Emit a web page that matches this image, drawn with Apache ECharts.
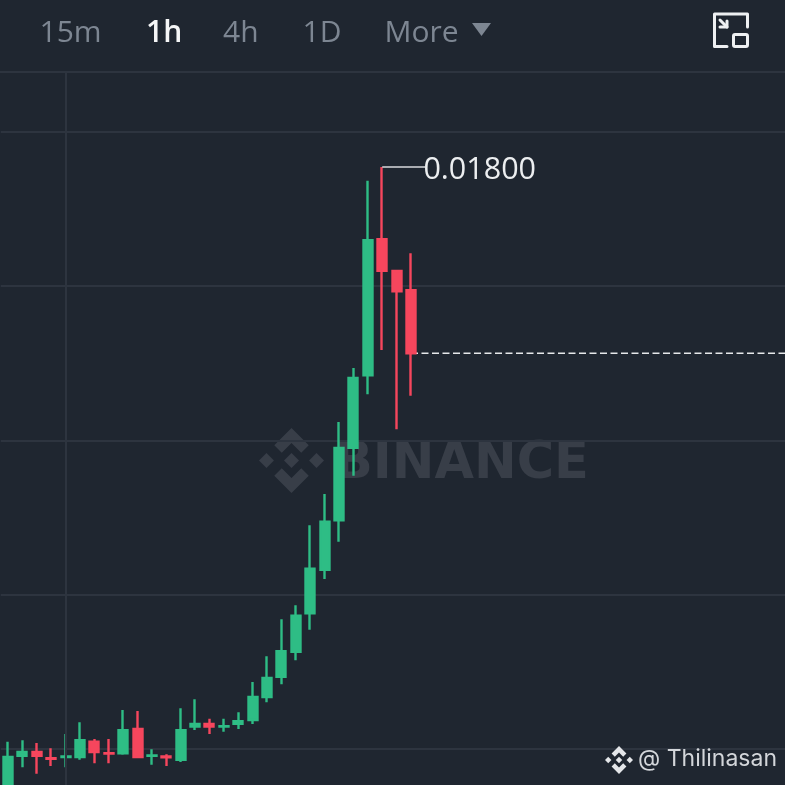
<!DOCTYPE html>
<html>
<head>
<meta charset="utf-8">
<script src="https://cdn.jsdelivr.net/npm/echarts@6/dist/echarts.min.js"></script>
<style>html,body{margin:0;padding:0;background:#1f2630}#c{width:785px;height:785px}</style>
</head>
<body>
<div id="c"></div>
<script>
// open, close, low, high
const opens  = [.002772,.003608,.003702,.003548,.003577,.003578,.003952,.00367,.003669,.004263,.003605,.00359,.003512,.004325,.004387,.004322,.004391,.004483,.005045,.005542,.006153,.007091,.008157,.009365,.01114,.01291,.016235,.01546,.014988];
const closes = [.003578,.003702,.003608,.003535,.00359,.003987,.003701,.00366,.004231,.003578,.003617,.00357,.004231,.004387,.004325,.004334,.004453,.005045,.00551,.006162,.007033,.008182,.009331,.011133,.012844,.01621,.015467,.014963,.013448];
const lows   = [.00265,.003327,.00317,.003358,.003327,.003512,.003424,.003424,.003635,.003547,.00339,.003358,.003456,.004238,.004141,.004197,.004263,.004385,.004916,.005356,.005942,.006691,.00793,.008842,.010455,.012445,.013528,.01159,.012411];
const highs  = [.003952,.003987,.003921,.003791,.004141,.004427,.004018,.004018,.004727,.004703,.003767,.003644,.004769,.004989,.004515,.004515,.004671,.005412,.00604,.006945,.007287,.009243,.010008,.011768,.013088,.017667,.018,.015484,.015892];
const slots = 56;
const categories = Array.from({length: slots}, (_, i) => 'h' + i);
const gridStep = 0.003774;
const peakLabel = '0.01800';
const peakValue = 0.018;
const peakIndex = 26;
const peakLabelIndex = 29;
const crossIndex = 4;
const tabs = ['15m', '1h', '4h', '1D', 'More'];
const credit = '@ Thilinasan';

const BG = '#1f2630', GRID = '#2d343f', UP = '#2ebd85', DOWN = '#f6465d', MARK = '#383e48', FONT = '"Open Sans", Roboto, sans-serif';

const candles = opens.map((o, i) => [o, closes[i], lows[i], highs[i]]);
const lastClose = closes[closes.length - 1];
const priceLine = categories.map((_, i) => i >= closes.length - 1 ? lastClose : '-');

function logo(cx, cy, r, fill, z) {
  const P = pts => ({type: 'polygon', z, silent: true, shape: {points: pts.map(p => [cx + p[0] * r, cy + p[1] * r])}, style: {fill}});
  const d = (x, y, s) => P([[x, y - s], [x + s, y], [x, y + s], [x - s, y]]);
  const chev = k => P([[0, -1 * k], [.53, -.47 * k], [.3, -.24 * k], [0, -.54 * k], [-.3, -.24 * k], [-.53, -.47 * k]]);
  return [d(0, 0, .23), d(-.77, 0, .23), d(.77, 0, .23), chev(1), chev(-1)];
}
const tabText = (t, x, active) => ({type: 'text', z: 101, silent: true, x, y: 33, style: {text: t, fill: active ? '#f5f6f7' : '#7d8692', font: (active ? '600 ' : '400 ') + '30px ' + FONT, textVerticalAlign: 'middle'}});
const strokeLine = pts => ({type: 'polyline', z: 101, silent: true, shape: {points: pts}, style: {stroke: '#eef0f2', lineWidth: 3, fill: 'none', lineJoin: 'round', lineCap: 'round'}});

const graphic = [
  {type: 'text', z: 0, silent: true, x: 334, y: 465, style: {text: 'BINANCE', fill: MARK, font: '700 51px "DejaVu Sans"', textVerticalAlign: 'middle'}},
  ...logo(291.5, 460.5, 32.5, MARK, 0),
  {type: 'rect', z: 100, silent: true, shape: {x: 0, y: 0, width: 785, height: 71}, style: {fill: BG}},
  {type: 'rect', z: 100, silent: true, shape: {x: 0, y: 71, width: 785, height: 2}, style: {fill: GRID}},
  tabText(tabs[0], 39.5, false), tabText(tabs[1], 146, true), tabText(tabs[2], 223, false), tabText(tabs[3], 302.5, false), tabText(tabs[4], 384.5, false),
  {type: 'polygon', z: 101, silent: true, shape: {points: [[472, 23], [491, 23], [481.5, 36]]}, style: {fill: '#7d8692'}},
  strokeLine([[747.5, 27], [747.5, 14], [714.5, 14], [714.5, 46.5], [727, 46.5]]),
  strokeLine([[720, 20], [727, 27]]),
  strokeLine([[720, 27], [727, 27], [727, 21]]),
  {type: 'rect', z: 101, silent: true, shape: {x: 733.5, y: 34.5, width: 14, height: 12, r: 1.5}, style: {stroke: '#eef0f2', lineWidth: 3, fill: 'none'}},
  ...logo(619, 760, 14, '#e4e6e9', 50),
  {type: 'text', z: 50, silent: true, x: 638, y: 759, style: {text: credit, fill: '#d3d6da', font: '400 23px Inter, sans-serif', textVerticalAlign: 'middle'}}
];

const chart = echarts.init(document.getElementById('c'), null, {renderer: 'canvas'});
chart.setOption({
  animation: false,
  backgroundColor: BG,
  graphic,
  grid: {left: 0.8, top: -22.875, width: 806, height: 926.25, containLabel: false, outerBoundsMode: 'none'},
  xAxis: {type: 'category', data: categories, boundaryGap: true, axisLine: {show: false}, axisTick: {show: false}, axisLabel: {show: false}, splitLine: {show: false}},
  yAxis: {type: 'value', min: 0, max: gridStep * 6, interval: gridStep, axisLine: {show: false}, axisTick: {show: false}, axisLabel: {show: false}, splitLine: {show: true, lineStyle: {color: GRID, width: 2}}},
  series: [
    {type: 'line', z: 1, data: priceLine, symbol: 'none', silent: true, lineStyle: {color: '#e6e8ea', width: 1.6, type: [7, 3.5]},
     markLine: {silent: true, symbol: 'none', label: {show: false}, lineStyle: {color: GRID, width: 2, type: 'solid'}, data: [{xAxis: categories[crossIndex]}]}},
    {type: 'candlestick', z: 2, data: candles, barWidth: 9.5, silent: true,
     itemStyle: {color: UP, color0: DOWN, borderColor: UP, borderColor0: DOWN, borderWidth: 2.4},
     markLine: {silent: true, symbol: 'none', animation: false,
       lineStyle: {color: '#d8dadd', width: 1.5, type: 'solid'},
       label: {show: true, position: 'end', distance: 0, offset: [-2, 3], formatter: peakLabel, color: '#eceef0', fontFamily: FONT, fontSize: 30.5, fontWeight: 400},
       data: [[{coord: [categories[peakIndex], peakValue]}, {coord: [categories[peakLabelIndex], peakValue]}]]}}
  ]
});
</script>
</body>
</html>
